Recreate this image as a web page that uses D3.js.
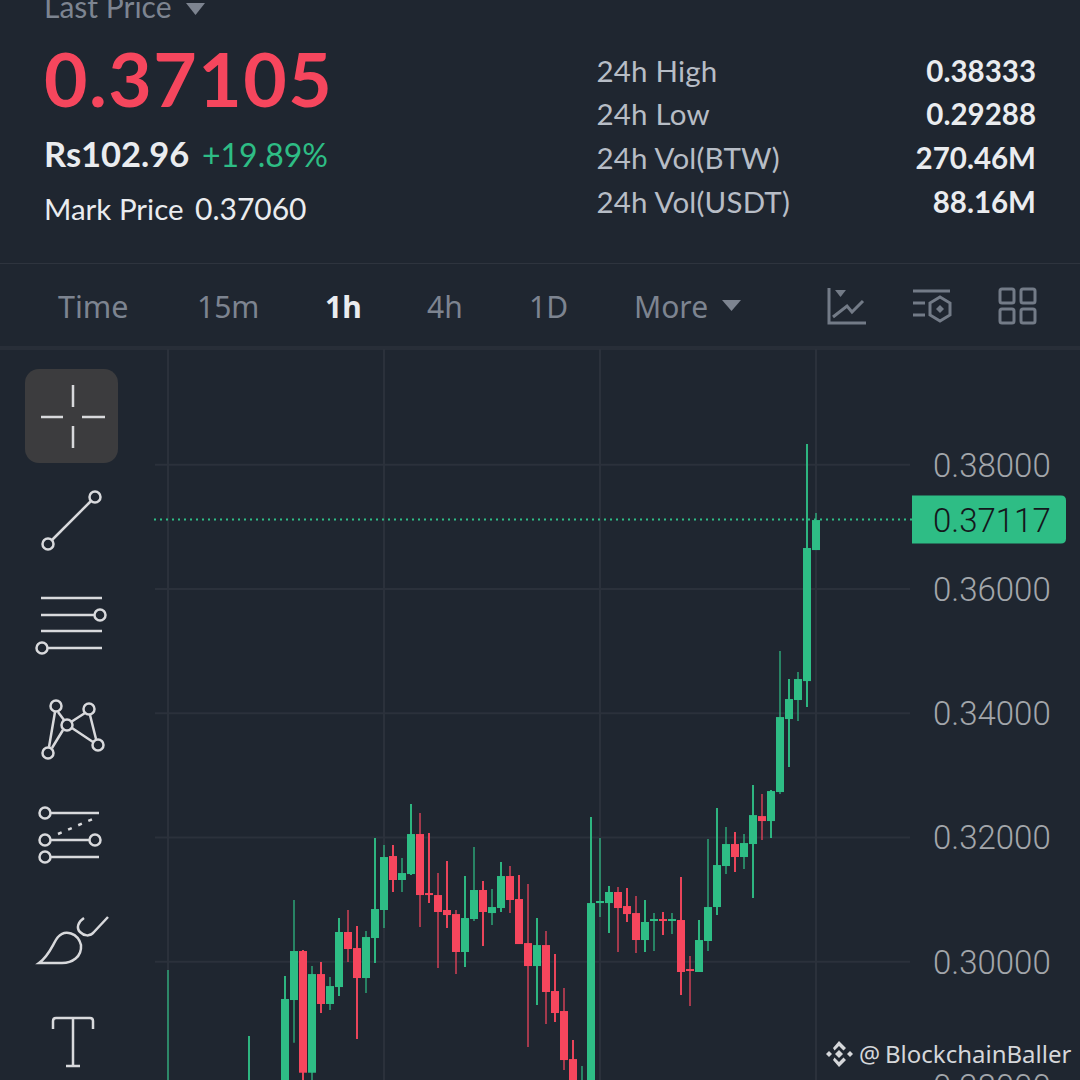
<!DOCTYPE html>
<html><head><meta charset="utf-8">
<script src="https://cdn.jsdelivr.net/npm/d3@7"></script>
<style>
html,body{margin:0;padding:0;background:#1f2630;overflow:hidden}
svg{display:block}
.h{font-family:Lato,sans-serif}
.r{font-family:Roboto,sans-serif}
.n{font-family:"Noto Sans",sans-serif}
</style></head><body><svg id="c" width="1080" height="1080"></svg>
<script>
const slots=[0,9,13,14,15,16,17,18,19,20,21,22,23,24,25,26,27,28,29,30,31,32,33,34,35,36,37,38,39,40,41,42,43,44,45,46,47,48,49,50,51,52,53,54,55,56,57,58,59,60,61,62,63,64,65,66,67,68,69,70,71,72];
const opens=[.2760,.2760,.2775,.29383,.30172,.28213,.29801,.29319,.29592,.30478,.3022,.29737,.30381,.30832,.31701,.31315,.31411,.32055,.31105,.31073,.30832,.30767,.30156,.30687,.31154,.30783,.30864,.31379,.31009,.303,.2993,.30268,.29528,.29206,.28433,.2750,.2750,.30944,.30944,.31122,.30896,.30783,.30349,.30655,.30687,.30655,.30671,.29882,.29834,.30333,.3088,.3154,.31894,.31685,.31894,.32344,.32264,.32731,.33906,.34212,.34517,.36626];
const closes=[.2775,.2770,.2940,.30172,.28213,.29801,.29319,.29608,.30478,.30204,.29737,.30397,.30848,.31685,.31315,.31427,.32055,.31073,.31073,.308,.30751,.30156,.30703,.31154,.308,.3088,.31379,.30993,.30284,.2993,.30268,.29512,.29174,.28417,.2720,.2790,.30944,.30977,.31122,.30864,.30767,.30349,.30639,.30687,.30655,.30687,.29834,.2985,.30349,.3088,.31556,.31894,.31685,.3191,.3236,.32264,.32747,.33938,.34228,.3455,.36659,.37109];
const highs=[.29866,.28804,.2977,.30993,.30188,.2993,.29995,.29753,.30703,.30832,.30574,.30494,.31991,.31878,.31878,.31669,.32538,.32393,.32071,.31427,.3162,.30832,.31379,.31846,.31299,.3117,.31604,.3154,.31395,.3125,.30703,.30494,.30123,.29576,.28739,.2832,.32329,.31991,.31218,.31202,.31186,.31057,.30993,.30783,.308,.30783,.31363,.30091,.30671,.31975,.32474,.32168,.32087,.32055,.32843,.32698,.32763,.35,.3455,.34662,.38333,.37222];
const lows=[.2750,.2750,.2760,.28696,.27934,.2793,.29174,.29222,.29447,.29995,.28755,.29496,.29979,.30542,.31122,.31122,.31395,.30558,.30944,.29898,.30542,.29801,.29914,.30655,.30252,.3059,.308,.30783,.30284,.28626,.29302,.28997,.29029,.28256,.2680,.2720,.2700,.30719,.30461,.30156,.30639,.3014,.30156,.30172,.30429,.30445,.29463,.29286,.29834,.30172,.30751,.31411,.31443,.31491,.31024,.31958,.3199,.32698,.33133,.33873,.3410,.36626];
const priceTicks=[.28,.30,.32,.34,.36,.38];
const timeTicks=[0,24,48,72];
const lastPrice=.37117;
const statLabels=["24h High","24h Low","24h Vol(BTW)","24h Vol(USDT)"];
const statValues=["0.38333","0.29288","270.46M","88.16M"];
const tabs=["Time","15m","1h","4h","1D","More"];
const GREEN="#2ebd85",RED="#f6465d",GRID="#2b313b";

const svg=d3.select("#c");
const x=d3.scaleLinear().domain([0,72]).range([168,816]);
const y=d3.scaleLinear().domain([.28,.38]).range([1085.95,464.7]);

/* header */
function T(t,px,py,size,fill,cls,weight,anchor,ls){
  return svg.append("text").attr("x",px).attr("y",py).attr("class",cls).attr("font-size",size).attr("fill",fill)
   .attr("font-weight",weight||400).attr("text-anchor",anchor||"start").attr("letter-spacing",ls||0).text(t);
}
T("Last Price",44,18,30,"#7d8490","h");
svg.append("path").attr("d","M186 3H205L195.500 15Z").attr("fill","#7d8490");
T("0.37105",44,107,75,RED,"h",700,"start",1.500);
T("Rs102.96",44,167,34.500,"#eaecef","h",700);
T("+19.89%",202,167,32,GREEN,"h");
T("Mark Price",44,220,29.500,"#eaecef","h");
T("0.37060",195,220,30,"#eaecef","h");
const statY=[82,125,169,213];
statLabels.forEach((s,i)=>T(s,596.500,statY[i],29.500,"#b7bdc6","h",400,"start",.2));
statValues.forEach((s,i)=>T(s,1036,statY[i],29.500,"#eaecef","h",700,"end"));
svg.append("rect").attr("x",0).attr("y",263).attr("width",1080).attr("height",1).attr("fill","#2e343e");
svg.append("rect").attr("x",0).attr("y",346).attr("width",1080).attr("height",4).attr("fill","#282e38");

/* tabs */
const tabX=[58,197,325,427,529,634];
tabs.forEach((s,i)=>T(s,tabX[i],318,i==0?30.500:30,i==2?"#eaecef":"#7d8490","n",i==2?700:400));
svg.append("path").attr("d","M722 300H741L731.500 311Z").attr("fill","#7d8490");

/* tab icons */
const ic=svg.append("g").attr("fill","none").attr("stroke","#737b87").attr("stroke-width",3);
ic.append("path").attr("d","M829 288V323H866");
ic.append("path").attr("d","M833 317L847 306L852 312L863 301");
ic.append("path").attr("d","M835 290H846L840.500 297Z").attr("fill","#737b87").attr("stroke","none");
ic.append("path").attr("d","M913 291H950M913 303H925M913 315H925");
ic.append("path").attr("d","M940 297L950 303V315L940 321L930 315V303Z");
ic.append("path").attr("d","M940 305L944 309L940 313L936 309Z").attr("fill","#737b87").attr("stroke","none");
[[1000,289],[1021,289],[1000,309],[1021,309]].forEach(p=>ic.append("rect").attr("x",p[0]).attr("y",p[1]).attr("width",14).attr("height",14).attr("rx",2));

/* grid + axis */
const chart=svg.append("g");
const yAxis=d3.axisRight(y).offset(0).tickValues(priceTicks).tickFormat(d3.format(".5f")).tickSize(755).tickPadding(23);
const gy=chart.append("g").attr("transform","translate(155,0)").call(yAxis);
gy.select(".domain").remove();
gy.selectAll("line").attr("stroke",GRID).attr("stroke-width",2);
gy.selectAll("text").attr("class","r").attr("font-size",33).attr("font-weight",300).attr("fill","#a3a6ab").attr("font-family","Roboto").attr("dy","0.36em");
const xAxis=d3.axisBottom(x).offset(0).tickValues(timeTicks).tickFormat("").tickSize(731);
const gx=chart.append("g").attr("transform","translate(0,349)").call(xAxis);
gx.select(".domain").remove();
gx.selectAll("line").attr("stroke",GRID).attr("stroke-width",2);

/* candles */
const data=slots.map((s,i)=>({s,o:opens[i],c:closes[i],h:highs[i],l:lows[i]}));
const col=d=>d.c>=d.o?GREEN:RED;
const g=chart.append("g");
g.selectAll("line.w").data(data).join("line").attr("class","w")
 .attr("x1",d=>x(d.s)).attr("x2",d=>x(d.s)).attr("y1",d=>y(d.h)).attr("y2",d=>y(d.l))
 .attr("stroke",col).attr("stroke-width",2).attr("stroke-opacity",d=>d.s%2?0.95:0.62);
g.selectAll("rect.b").data(data).join("rect").attr("class","b")
 .attr("x",d=>x(d.s)-4).attr("width",8)
 .attr("y",d=>y(Math.max(d.o,d.c))).attr("height",d=>Math.max(2,Math.abs(y(d.o)-y(d.c))))
 .attr("fill",col);

/* last price */
chart.append("line").attr("x1",154).attr("x2",912).attr("y1",y(lastPrice)).attr("y2",y(lastPrice))
 .attr("stroke",GREEN).attr("stroke-width",2).attr("stroke-dasharray","2 4");
const py=y(lastPrice);
chart.append("path").attr("d",`M912 ${py-24}H1061Q1066 ${py-24} 1066 ${py-19}V${py+19}Q1066 ${py+24} 1061 ${py+24}H912Z`).attr("fill",GREEN);
T(d3.format(".5f")(lastPrice),933,py+12,33,"#14171c","r",300);

/* tools */
svg.append("rect").attr("x",25).attr("y",369).attr("width",93).attr("height",94).attr("rx",14).attr("fill","#3c3c3e");
const to=svg.append("g").attr("fill","none").attr("stroke","#d8d9dc").attr("stroke-width",2.500);
to.append("path").attr("d","M73 385V407M73 426V448M41 417H63M82 417H105");
const circ=(cx,cy,r)=>to.append("circle").attr("cx",cx).attr("cy",cy).attr("r",r||5.500);
circ(48,544);circ(95,497);to.append("path").attr("d","M52 540L91 501");
to.append("path").attr("d","M41 598H102M41 615H94M41 631H102M48 648H102");
circ(100,615);circ(42,648);
circ(56,706);circ(89,709);circ(67,725);circ(48,753);circ(98,745);
to.append("path").attr("d","M55 712L49 747M52 748L63 730M71 722L85 713M90 715L96 739M72 728L93 742M58 712L64 720");
circ(45,813);to.append("path").attr("d","M51 813H99");
circ(45,840);circ(95,840);to.append("path").attr("d","M51 840H89");
circ(45,857);to.append("path").attr("d","M51 857H99");
to.append("path").attr("d","M58 834L95 818").attr("stroke-dasharray","4 7");
to.append("path").attr("d","M39 963C50 955 53 943 58 937C65 929 78 933 81 945C82 957 72 963 62 963Z");
to.append("path").attr("d","M108 917L94 932C90 937 84 936 80 932C76 928 78 922 84 918");
to.append("path").attr("d","M53 1029V1021Q53 1018 56 1018H90Q93 1018 93 1021V1029M73 1018V1066M66 1066H80");

/* watermark */
T("@",859,1063,23.500,"#d5d7da","n");
T("BlockchainBaller",885,1063,24,"#d5d7da","n");
const wm=svg.append("g").attr("fill","#d5d7da");
[[829,1054,3],[850,1054,3],[839,1054,4]].forEach(p=>wm.append("path").attr("d",`M${p[0]} ${p[1]-p[2]}L${p[0]+p[2]} ${p[1]}L${p[0]} ${p[1]+p[2]}L${p[0]-p[2]} ${p[1]}Z`));
wm.append("path").attr("d","M833 1048L839 1041L846 1048L843.500 1050.500L839 1046L834.500 1050.500Z");
wm.append("path").attr("d","M833 1060L839 1067L846 1060L843.500 1057.500L839 1062L834.500 1057.500Z");
</script></body></html>
